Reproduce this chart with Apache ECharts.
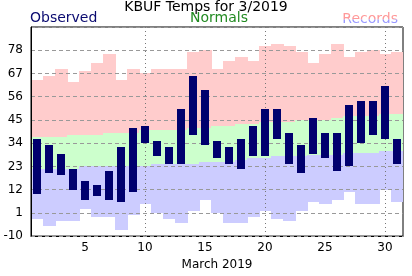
<!DOCTYPE html>
<html>
<head>
<meta charset="utf-8">
<script src="https://cdn.jsdelivr.net/npm/echarts@6/dist/echarts.min.js"></script>
<style>
  html, body { margin: 0; padding: 0; background: #fff; }
  #chart { width: 412px; height: 276px; }
</style>
</head>
<body>
<div id="chart"></div>
<script>
var days = [];
for (var d = 1; d <= 31; d++) days.push(String(d));

// observed daily high / low
var obsHigh = [36, 33, 29, 22, 16, 14, 21, 32, 41, 42, 35, 32, 50, 66, 59, 35, 32, 36, 42, 50, 50, 39, 33, 46, 39, 39, 52, 54, 54, 61, 36];
var obsLow  = [10, 20, 19, 12, 7, 9, 7, 6, 11, 34, 28, 24, 24, 38, 33, 27, 24, 22, 28, 28, 36, 24, 20, 29, 27, 21, 23, 34, 38, 36, 24];
// normals
var normHigh = [37, 37, 37, 38, 38, 38, 39, 39, 39, 40, 40, 40, 40, 41, 41, 42, 42, 43, 43, 44, 44, 44, 45, 45, 45, 46, 47, 47, 47, 48, 48];
var normLow  = [22, 22, 22, 22, 23, 23, 23, 23, 23, 23, 24, 24, 24, 24, 25, 25, 25, 26, 27, 27, 28, 28, 28, 28.5, 28.5, 28.5, 29.5, 29.5, 29.5, 30.5, 30.5];
// records
var recHigh = [64, 66, 69, 63, 68, 72, 76, 64, 69, 67, 69, 69, 69, 77, 78, 69, 73, 75, 73, 80, 81, 80, 77, 72, 76, 81, 75, 77, 78, 76, 77];
var recLow  = [-2, -5, -3, -3, 3, -1, -1, -7, 0, 5, 1, -2, -4, 2, 7, 1, -4, -4, -1, 2, -2, -3, 2, 6, 5, 7, 11, 5, 5, 12, 6];
// days with a dotted vertical guide
var guideDays = ['10', '20', '30'];

var yMin = -10, yMax = 89, yStep = 11;

var chart = echarts.init(document.getElementById('chart'), null, { renderer: 'canvas' });

var font = 'DejaVu Sans';
var bandColors = ['#ccccff', '#ccffcc', '#ffcccc'];

// record low -> normal low -> normal high -> record high, one full-width column per day
function renderBands(params, api) {
  var i = api.value(0);
  var w = api.size([1, 0])[0];
  var children = [];
  for (var k = 0; k < 3; k++) {
    var top = api.coord([i, api.value(k + 2)]);
    var bot = api.coord([i, api.value(k + 1)]);
    var x0 = Math.floor(top[0] - w / 2);
    var x1 = Math.ceil(top[0] + w / 2) + 1;
    var y0 = Math.round(top[1]);
    var y1 = Math.round(bot[1]);
    children.push({
      type: 'rect',
      shape: { x: x0, y: y0, width: x1 - x0, height: y1 - y0 },
      style: { fill: bandColors[k], lineWidth: 0 }
    });
  }
  return { type: 'group', children: children };
}

function renderObs(params, api) {
  var i = api.value(0);
  var top = api.coord([i, api.value(2)]);
  var bot = api.coord([i, api.value(1)]);
  var y0 = Math.round(top[1]);
  var y1 = Math.round(bot[1]);
  return {
    type: 'rect',
    shape: { x: Math.round(top[0]) - 4, y: y0, width: 8, height: y1 - y0 },
    style: { fill: '#00006e' }
  };
}

function renderGuide(params, api) {
  var i = api.value(0);
  var a = api.coord([i, yMax]);
  var b = api.coord([i, yMin]);
  return {
    type: 'line',
    shape: { x1: a[0] + 0.5, y1: a[1], x2: b[0] + 0.5, y2: b[1] },
    style: { stroke: '#777', lineWidth: 1, lineDash: [1, 3] }
  };
}

// "Records" legend: pink upper half, lavender lower half
function renderRecordsLabel(params, api) {
  var x = 398, y = 12;
  function txt(color, cy, ch) {
    return {
      type: 'text',
      style: { text: 'Records', x: x, y: y, align: 'right', verticalAlign: 'top', font: '14px "DejaVu Sans"', fill: color },
      clipPath: { type: 'rect', shape: { x: 300, y: cy, width: 110, height: ch } }
    };
  }
  return { type: 'group', children: [txt('#ff9999', 0, 19.5), txt('#9999ff', 19.5, 10)] };
}

var bandData = days.map(function (d, i) { return [i, recLow[i], normLow[i], normHigh[i], recHigh[i]]; });
var obsData = days.map(function (d, i) { return [i, obsLow[i], obsHigh[i]]; });
var guideData = guideDays.map(function (d) { return [days.indexOf(d)]; });

var option = {
  animation: false,
  title: [
    { text: 'KBUF Temps for 3/2019', left: 'center', top: 0, padding: 0,
      textStyle: { fontFamily: font, fontSize: 14, fontWeight: 'normal', color: '#000' } },
    { text: 'Observed', left: 30, top: 11, padding: 0,
      textStyle: { fontFamily: font, fontSize: 14, fontWeight: 'normal', color: '#0a0a70' } },
    { text: 'Normals', left: 190, top: 11, padding: 0,
      textStyle: { fontFamily: font, fontSize: 14, fontWeight: 'normal', color: '#228b22' } }
  ],
  grid: {
    left: 31, right: 9, top: 27, bottom: 30,
    show: true, borderColor: '#000', borderWidth: 1, backgroundColor: 'transparent'
  },
  xAxis: {
    type: 'category',
    data: days,
    boundaryGap: true,
    name: 'March 2019',
    nameLocation: 'middle',
    nameGap: 21,
    nameTextStyle: { fontFamily: font, fontSize: 12, color: '#000' },
    axisLine: { onZero: false, lineStyle: { color: '#000', width: 1 } },
    axisTick: { alignWithLabel: true, interval: 0, length: 4, lineStyle: { color: '#000' } },
    axisLabel: {
      interval: function (i) { return (i + 1) % 5 === 0; },
      margin: 6,
      fontFamily: font, fontSize: 12, color: '#000'
    },
    splitLine: { show: false }
  },
  yAxis: {
    type: 'value',
    min: yMin, max: yMax, interval: yStep,
    z: 1.5,
    axisLine: { show: true, onZero: false, lineStyle: { color: '#000', width: 1 } },
    axisTick: { show: false },
    axisLabel: {
      fontFamily: font, fontSize: 12, color: '#000', margin: 8,
      showMaxLabel: false
    },
    splitLine: { show: true, lineStyle: { color: '#999', type: [4, 3], width: 1 } }
  },
  series: [
    {
      type: 'custom', z: 1, silent: true, clip: true,
      renderItem: renderBands,
      encode: { x: 0, y: [1, 2, 3, 4] },
      data: bandData
    },
    {
      type: 'custom', z: 2, silent: true,
      renderItem: renderGuide,
      encode: { x: 0 },
      data: guideData
    },
    {
      type: 'custom', z: 3, silent: true,
      renderItem: renderObs,
      encode: { x: 0, y: [1, 2] },
      data: obsData
    },
    {
      type: 'custom', coordinateSystem: 'none', silent: true,
      renderItem: renderRecordsLabel,
      data: [[0]]
    }
  ]
};

chart.setOption(option);
</script>
</body>
</html>
